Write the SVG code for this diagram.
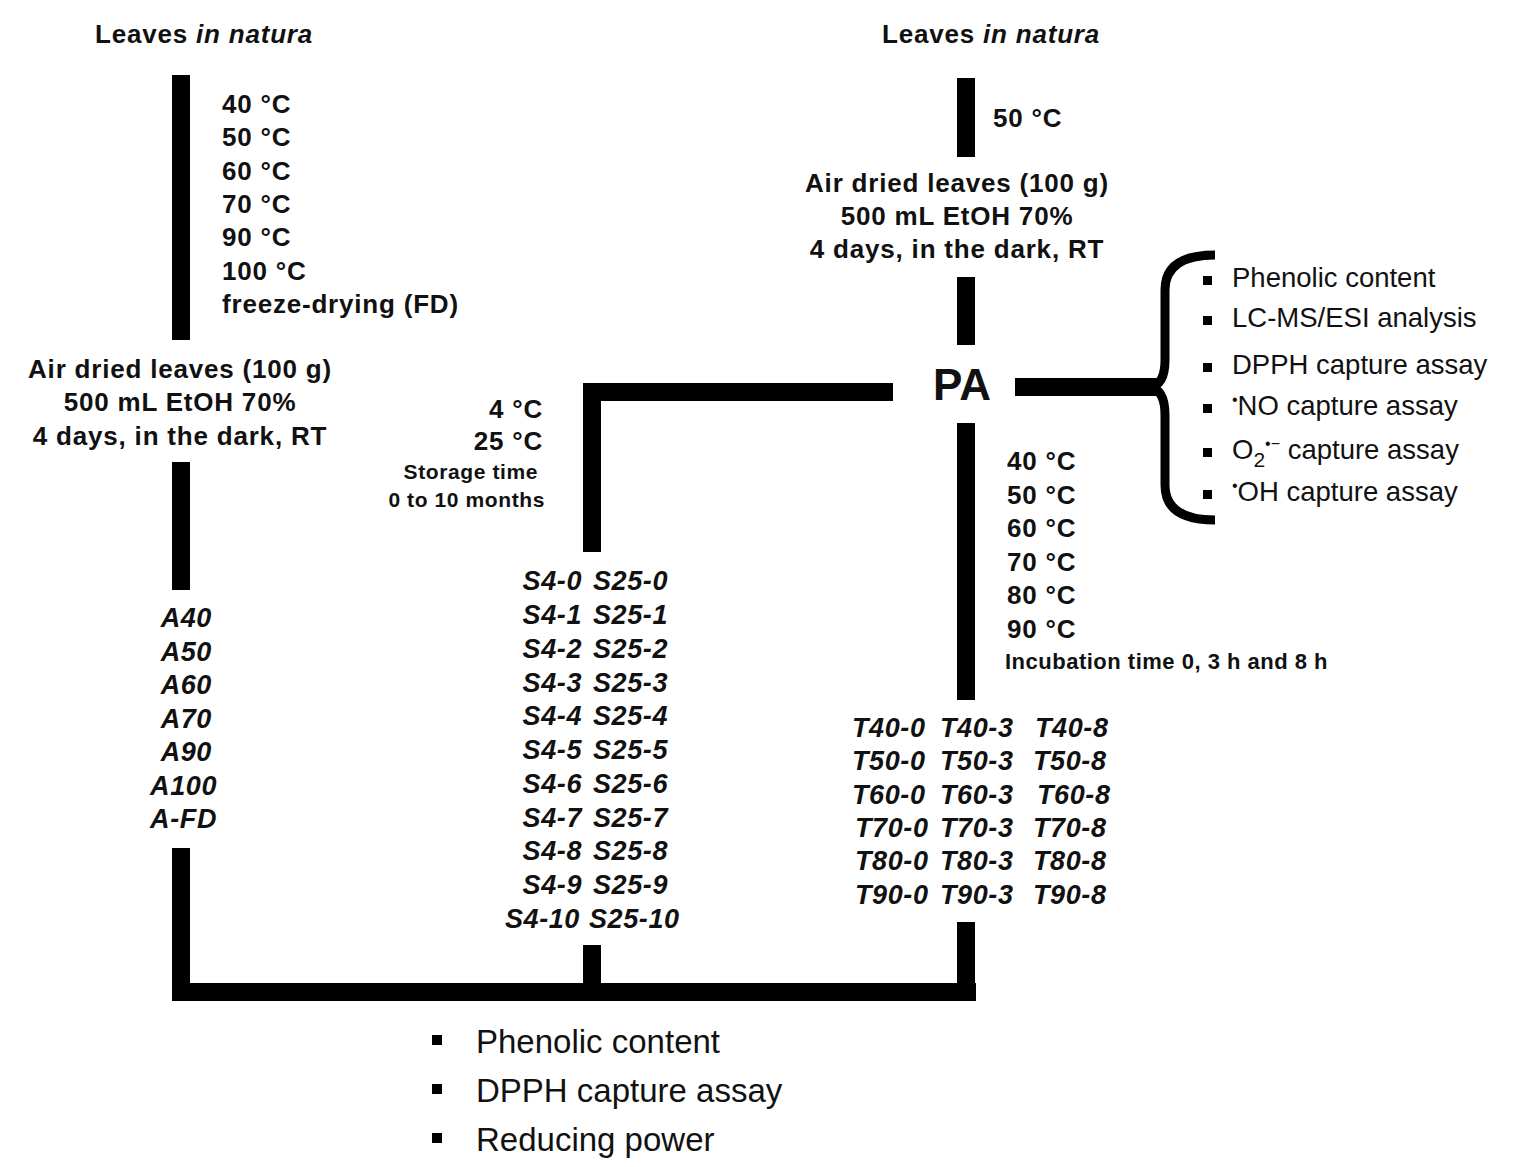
<svg xmlns="http://www.w3.org/2000/svg" width="1535" height="1167" viewBox="0 0 1535 1167">
<style>
text{font-family:"Liberation Sans",Arial,sans-serif;fill:#111}
.b{font-weight:bold;font-size:26px;letter-spacing:0.8px}
.s{font-weight:bold;font-size:21px;letter-spacing:0.6px}
.i{font-weight:bold;font-style:italic;font-size:27px;letter-spacing:0.6px}
.n{font-size:27.5px}
.m{font-size:33px}
.c{text-anchor:middle}
.r{text-anchor:end}
.ln{stroke:#000;stroke-width:18;fill:none}
</style>
<rect width="1535" height="1167" fill="#fff"/>
<g id="connectors">
<path class="ln" d="M181 75V340M181 462V590M181 848V992M172 992H976M592 1001V945M592 552V392H893M966 78V157M966 277V345M966 423V700M966 922V1001M1015 387H1160"/>
<path d="M1215 255Q1165 255 1165 290V360Q1165 385 1150 387Q1165 390 1165 415V485Q1165 520 1215 520" fill="none" stroke="#000" stroke-width="9"/>
</g>
<g id="left-top"><text class="b c" x="204" y="43">Leaves <tspan font-style="italic">in natura</tspan></text></g>
<g id="right-top"><text class="b c" x="991" y="43">Leaves <tspan font-style="italic">in natura</tspan></text></g>
<g id="left-temps">
<text class="b" x="222" y="113">40 °C</text><text class="b" x="222" y="146">50 °C</text><text class="b" x="222" y="180">60 °C</text><text class="b" x="222" y="213">70 °C</text><text class="b" x="222" y="246">90 °C</text><text class="b" x="222" y="280">100 °C</text><text class="b" x="222" y="313">freeze-drying (FD)</text>
</g>
<g id="left-extract">
<text class="b c" x="180" y="378">Air dried leaves (100 g)</text><text class="b c" x="180" y="411">500 mL EtOH 70%</text><text class="b c" x="180" y="445">4 days, in the dark, RT</text>
</g>
<g id="A-samples">
<text class="i r" x="212" y="627">A40</text><text class="i r" x="212" y="661">A50</text><text class="i r" x="212" y="694">A60</text><text class="i r" x="212" y="728">A70</text><text class="i r" x="212" y="761">A90</text><text class="i r" x="217" y="795">A100</text><text class="i r" x="217" y="828">A-FD</text>
</g>
<g id="storage">
<text class="b r" x="543" y="418">4 °C</text><text class="b r" x="543" y="450">25 °C</text><text class="s r" x="538" y="479">Storage  time</text><text class="s r" x="545" y="507">0 to 10 months</text>
</g>
<g id="S-samples">
<text class="i r" x="582" y="590">S4-0</text><text class="i" x="593" y="590">S25-0</text>
<text class="i r" x="582" y="624">S4-1</text><text class="i" x="593" y="624">S25-1</text>
<text class="i r" x="582" y="658">S4-2</text><text class="i" x="593" y="658">S25-2</text>
<text class="i r" x="582" y="692">S4-3</text><text class="i" x="593" y="692">S25-3</text>
<text class="i r" x="582" y="725">S4-4</text><text class="i" x="593" y="725">S25-4</text>
<text class="i r" x="582" y="759">S4-5</text><text class="i" x="593" y="759">S25-5</text>
<text class="i r" x="582" y="793">S4-6</text><text class="i" x="593" y="793">S25-6</text>
<text class="i r" x="582" y="827">S4-7</text><text class="i" x="593" y="827">S25-7</text>
<text class="i r" x="582" y="860">S4-8</text><text class="i" x="593" y="860">S25-8</text>
<text class="i r" x="582" y="894">S4-9</text><text class="i" x="593" y="894">S25-9</text>
<text class="i r" x="580" y="928">S4-10</text><text class="i" x="589" y="928">S25-10</text>
</g>
<g id="right-extract">
<text class="b" x="993" y="127">50 °C</text>
<text class="b c" x="957" y="192">Air dried leaves (100 g)</text><text class="b c" x="957" y="225">500 mL EtOH 70%</text><text class="b c" x="957" y="258">4 days, in the dark, RT</text>
</g>
<g id="PA"><text x="962" y="400" text-anchor="middle" font-weight="bold" font-size="44">PA</text></g>
<g id="assays-right">
<rect x="1203" y="276" width="9" height="9"/><text class="n" x="1232" y="287">Phenolic content</text>
<rect x="1203" y="316" width="9" height="9"/><text class="n" x="1232" y="327">LC-MS/ESI analysis</text>
<rect x="1203" y="363" width="9" height="9"/><text class="n" x="1232" y="374">DPPH capture assay</text>
<rect x="1203" y="404" width="9" height="9"/><text class="n" x="1232" y="415"><tspan font-size="16" dy="-10">•</tspan><tspan dy="10">NO capture assay</tspan></text>
<rect x="1203" y="448" width="9" height="9"/><text class="n" x="1232" y="459">O<tspan font-size="21" dy="8">2</tspan><tspan font-size="16" dy="-18">•−</tspan><tspan dy="10"> capture assay</tspan></text>
<rect x="1203" y="490" width="9" height="9"/><text class="n" x="1232" y="501"><tspan font-size="16" dy="-10">•</tspan><tspan dy="10">OH capture assay</tspan></text>
</g>
<g id="incubation">
<text class="b" x="1007" y="470">40 °C</text><text class="b" x="1007" y="504">50 °C</text><text class="b" x="1007" y="537">60 °C</text><text class="b" x="1007" y="571">70 °C</text><text class="b" x="1007" y="604">80 °C</text><text class="b" x="1007" y="638">90 °C</text>
<text class="s" x="1005" y="669" style="font-size:22px;letter-spacing:0.5px">Incubation time 0, 3 h and 8 h</text>
</g>
<g id="T-samples">
<text class="i" x="852" y="737">T40-0</text><text class="i" x="940" y="737">T40-3</text><text class="i" x="1035" y="737">T40-8</text>
<text class="i" x="852" y="770">T50-0</text><text class="i" x="940" y="770">T50-3</text><text class="i" x="1033" y="770">T50-8</text>
<text class="i" x="852" y="804">T60-0</text><text class="i" x="940" y="804">T60-3</text><text class="i" x="1037" y="804">T60-8</text>
<text class="i" x="855" y="837">T70-0</text><text class="i" x="940" y="837">T70-3</text><text class="i" x="1033" y="837">T70-8</text>
<text class="i" x="855" y="870">T80-0</text><text class="i" x="940" y="870">T80-3</text><text class="i" x="1033" y="870">T80-8</text>
<text class="i" x="855" y="904">T90-0</text><text class="i" x="940" y="904">T90-3</text><text class="i" x="1033" y="904">T90-8</text>
</g>
<g id="assays-bottom">
<rect x="432" y="1035" width="10" height="10"/><text class="m" x="476" y="1053">Phenolic content</text>
<rect x="432" y="1084" width="10" height="10"/><text class="m" x="476" y="1102">DPPH capture assay</text>
<rect x="432" y="1133" width="10" height="10"/><text class="m" x="476" y="1151">Reducing power</text>
</g>
</svg>
